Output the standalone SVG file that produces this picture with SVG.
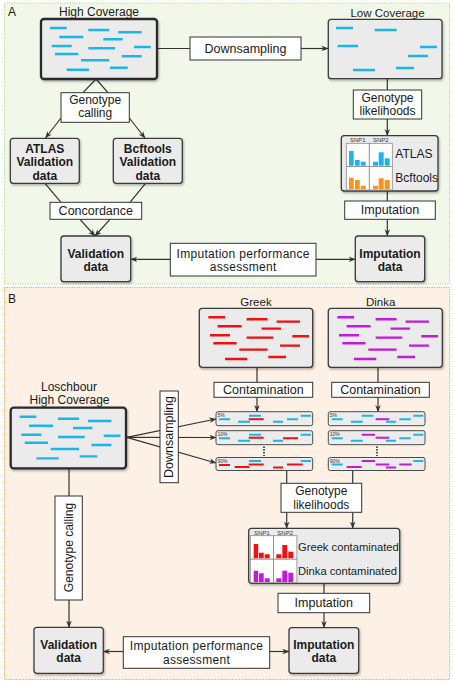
<svg xmlns="http://www.w3.org/2000/svg" xmlns:xlink="http://www.w3.org/1999/xlink" width="453" height="685" viewBox="0 0 453 685">
<style>
.pa{fill:#f2f8e9;stroke:#b3d88a;stroke-width:1;stroke-dasharray:1.2 1.2}
.pb{fill:#fdf1e6;stroke:#f2a24e;stroke-width:1;stroke-dasharray:1.2 1.2}
.w{fill:#fff;stroke:#333;stroke-width:1}
.g{fill:#ebebeb;stroke:#3a3a3a;stroke-width:1.3}
.k{fill:#ebebeb;stroke:#2a2a2a;stroke-width:2.3}
.s{fill:#ececec;stroke:#4a4a4a;stroke-width:1}
.cell{fill:#fff;stroke:#8a8a8a;stroke-width:0.8}
.t{font-family:"Liberation Sans",Arial,sans-serif;font-size:12.5px;fill:#1a1a1a;text-anchor:middle}
.t2{font-size:12px}
.ls{letter-spacing:0.3px}
.l{text-anchor:start}
.b{font-weight:bold;font-size:12px}
.sm{font-size:6px;fill:#333}
.pc{font-family:"Liberation Sans",Arial,sans-serif;font-size:5px;fill:#333}
.c{stroke:#333;stroke-width:1.2;fill:none}
.a{marker-end:url(#ah)}
.cy{stroke:#1cb5ea}
.rd{stroke:#ee1111}
.mg{stroke:#c11bd9}
.rl{stroke-width:2;fill:none}
</style>
<defs>
<marker id="ah" viewBox="0 0 10 10" refX="9.5" refY="5" markerWidth="7" markerHeight="7" orient="auto" markerUnits="userSpaceOnUse">
<path d="M0,1 L10,5 L0,9 L3,5 z" fill="#333"/>
</marker>
<filter id="sh" x="-20%" y="-20%" width="150%" height="150%">
<feDropShadow dx="1" dy="1.5" stdDeviation="1.2" flood-color="#000" flood-opacity="0.3"/>
</filter>
<path id="reads" fill="none" stroke-width="2.4" d="M9 9h16.7 M47.3 11h21 M77.3 13.3h23.4 M18.3 18h24 M62.3 20.3h19.4 M10.7 27h20 M47.3 29.3h26.7 M93 28h16.7 M14 35h23.3 M80.7 37.3h20 M40 41.3h28.3 M25.7 50.7h22.3 M69 48.7h17.7"/>
</defs>

<!-- panels -->
<rect class="pa" x="4.5" y="3" width="445" height="281"/>
<rect class="pb" x="4.5" y="287.5" width="445" height="392"/>
<text class="t l" x="8" y="15.5" style="font-size:12px">A</text>
<text class="t l" x="8" y="302.5" style="font-size:12px">B</text>

<!-- connectors -->
<g id="connectors">
<path class="c" d="M157 48.5H190"/>
<path class="c a" d="M301 48.5H328"/>
<path class="c" d="M96 79L83 92.7 M96 79L108 92.7"/>
<path class="c a" d="M61 118L45.5 138"/>
<path class="c a" d="M129.3 118L145 138"/>
<path class="c" d="M45 183.3L61 202.3 M145.5 183.3L130 202.3"/>
<path class="c a" d="M80 219.3L95 236"/>
<path class="c a" d="M110 219.3L95 236"/>
<path class="c" d="M387.3 78.7V90"/>
<path class="c a" d="M387.3 119V135.7"/>
<path class="c" d="M387.3 191V201"/>
<path class="c a" d="M387.3 219.3V236"/>
<path class="c a" d="M316 259.3H355.3"/>
<path class="c a" d="M170.3 259.3H130.7"/>

<path class="c" d="M257 367.3V382.3"/>
<path class="c a" d="M257 397.3V411.7"/>
<path class="c" d="M378 367.3V382.3"/>
<path class="c a" d="M378 397.3V411.7"/>
<path class="c a" d="M126.7 437.3L216 419"/>
<path class="c a" d="M126.7 437.3L216 437.5"/>
<path class="c a" d="M126.7 437.3L216 463"/>
<path class="c" d="M69 468.3V496"/>
<path class="c a" d="M69 600V627.3"/>
<path class="c" d="M286.7 470.3V483.3 M352.7 470.3V483.3"/>
<path class="c a" d="M286.7 512.3V528.3"/>
<path class="c a" d="M352.7 512.3V528.3"/>
<path class="c" d="M324 583.3V593.3"/>
<path class="c a" d="M324 612.7V627.7"/>
<path class="c a" d="M269.7 651.5H289"/>
<path class="c a" d="M123.3 651.5H103.3"/>
<path d="M264 446.5V456 M377 446.5V456" stroke="#222" stroke-width="1.6" stroke-dasharray="1.5 1.3" fill="none"/>
</g>

<!-- Panel A nodes -->
<g id="highCoverageA">
<text class="t" x="99" y="15.5" style="font-size:12px">High Coverage</text>
<rect class="k" x="41" y="19" width="116" height="60" rx="3" filter="url(#sh)"/>
<use xlink:href="#reads" href="#reads" x="41" y="19" stroke="#1cb5ea"/>
</g>
<g id="downsamplingA">
<rect class="w" x="190" y="37" width="111" height="23"/>
<text class="t" x="245.5" y="53">Downsampling</text>
</g>
<g id="lowCoverage">
<text class="t" x="387.5" y="16.5" style="font-size:11.5px">Low Coverage</text>
<rect class="g" x="328.3" y="19.3" width="113.7" height="59.4" rx="3" filter="url(#sh)"/>
<path class="cy" fill="none" stroke-width="2.4" d="M336 28h17 M374.7 30h22 M337.7 46h20.3 M420 47h17 M408 56h20 M353 70h22 M396 68h18"/>
</g>
<g id="genotypeCallingA">
<rect class="w" x="61" y="92.7" width="68.3" height="29.6"/>
<text class="t t2" x="95.2" y="103.5">Genotype</text>
<text class="t t2" x="95.2" y="117">calling</text>
</g>
<g id="atlasValidation">
<rect class="g" x="10.3" y="138.3" width="69" height="45" rx="3" filter="url(#sh)"/>
<text class="t b" x="44.8" y="152.5">ATLAS</text>
<text class="t b" x="44.8" y="166">Validation</text>
<text class="t b" x="44.8" y="179.5">data</text>
</g>
<g id="bcftoolsValidation">
<rect class="g" x="113.3" y="138.3" width="69" height="45" rx="3" filter="url(#sh)"/>
<text class="t b" x="147.8" y="152.5">Bcftools</text>
<text class="t b" x="147.8" y="166">Validation</text>
<text class="t b" x="147.8" y="179.5">data</text>
</g>
<g id="concordance">
<rect class="w" x="50" y="202.3" width="91.7" height="17"/>
<text class="t" x="95.8" y="215">Concordance</text>
</g>
<g id="validationA">
<rect class="g" x="61" y="236" width="69.7" height="45.7" rx="3" filter="url(#sh)"/>
<text class="t b" x="95.8" y="257.5">Validation</text>
<text class="t b" x="95.8" y="271">data</text>
</g>
<g id="perfA">
<rect class="w" x="170.3" y="243.3" width="145.7" height="32.7"/>
<text class="t t2 ls" x="243.2" y="257.5">Imputation performance</text>
<text class="t t2 ls" x="243.2" y="271">assessment</text>
</g>
<g id="genotypeLikelihoodsA">
<rect class="w" x="353.3" y="90" width="68.4" height="29"/>
<text class="t t2" x="387.5" y="101.8">Genotype</text>
<text class="t t2" x="387.5" y="115.3">likelihoods</text>
</g>
<g id="snpA">
<rect class="g" x="341.3" y="135.7" width="96.7" height="55.3" rx="3" filter="url(#sh)"/>
<rect class="cell" x="346.3" y="143.3" width="23" height="23.3"/>
<rect class="cell" x="369.3" y="143.3" width="23" height="23.3"/>
<rect class="cell" x="346.3" y="166.6" width="23" height="23.4"/>
<rect class="cell" x="369.3" y="166.6" width="23" height="23.4"/>
<text class="t sm" x="357.8" y="142.3">SNP1</text>
<text class="t sm" x="380.8" y="142.3">SNP2</text>
<g fill="#1cb5ea">
<rect x="349" y="151" width="4.7" height="14.7"/>
<rect x="355" y="160" width="4.7" height="5.7"/>
<rect x="360.7" y="161.7" width="5" height="4"/>
<rect x="373" y="161.7" width="5" height="4"/>
<rect x="378.7" y="152.3" width="5" height="13.4"/>
<rect x="384.7" y="158.3" width="5" height="7.4"/>
</g>
<g fill="#f7931e">
<rect x="349" y="177.7" width="4.7" height="11.6"/>
<rect x="355" y="180" width="4.7" height="9.3"/>
<rect x="360.7" y="185.7" width="5" height="3.6"/>
<rect x="373" y="185.7" width="5" height="3.6"/>
<rect x="378.7" y="178.3" width="5" height="11"/>
<rect x="384.7" y="180" width="5" height="9.3"/>
</g>
<text class="t l" x="395.3" y="157.7" style="font-size:12px">ATLAS</text>
<text class="t l" x="395.3" y="182.3" style="font-size:12px">Bcftools</text>
</g>
<g id="imputationA">
<rect class="w" x="344.7" y="201" width="90.6" height="18.3"/>
<text class="t" x="390" y="214">Imputation</text>
</g>
<g id="imputationDataA">
<rect class="g" x="355.3" y="236" width="69.4" height="45.7" rx="3" filter="url(#sh)"/>
<text class="t b" x="390" y="257.5">Imputation</text>
<text class="t b" x="390" y="271">data</text>
</g>

<!-- Panel B nodes -->
<g id="greek">
<text class="t" x="256" y="306" style="font-size:11.5px">Greek</text>
<rect class="g" x="199.3" y="308.3" width="113.4" height="59" rx="3" filter="url(#sh)"/>
<use xlink:href="#reads" href="#reads" x="199.3" y="308.3" stroke="#ee1111"/>
</g>
<g id="dinka">
<text class="t" x="380.7" y="306" style="font-size:11.5px">Dinka</text>
<rect class="g" x="328.3" y="308.3" width="114" height="59" rx="3" filter="url(#sh)"/>
<use xlink:href="#reads" href="#reads" x="328.3" y="308.3" stroke="#c11bd9"/>
</g>
<g id="contaminationGreek">
<rect class="w" x="214" y="382.3" width="98.7" height="15"/>
<text class="t" x="263.3" y="394">Contamination</text>
</g>
<g id="contaminationDinka">
<rect class="w" x="331.7" y="382.3" width="97.6" height="15"/>
<text class="t" x="380.5" y="394">Contamination</text>
</g>
<g id="loschbour">
<text class="t" x="69" y="390.5" style="font-size:12px">Loschbour</text>
<text class="t" x="69.5" y="404" style="font-size:12px">High Coverage</text>
<rect class="k" x="10.7" y="407.7" width="115.3" height="60.6" rx="3" filter="url(#sh)"/>
<use xlink:href="#reads" href="#reads" x="10.7" y="407.7" stroke="#1cb5ea"/>
</g>
<g id="downsamplingB">
<rect class="w" x="160" y="391" width="18.3" height="91.7"/>
<text class="t" transform="translate(173.3,437) rotate(-90)">Downsampling</text>
</g>
<g id="greekStrips">
<rect class="s" x="216" y="411.7" width="96.7" height="14" rx="2"/>
<text class="pc" x="217.5" y="417">5%</text>
<path class="rl cy" d="M219 419.2h11 M238 421.7h12 M249 415.7h12 M273 421.7h10 M287 419.2h11 M300.7 415.7h10.3"/>
<path class="rl rd" d="M248.7 419.2h15"/>
<rect class="s" x="216" y="430.7" width="96.7" height="14" rx="2"/>
<text class="pc" x="217.5" y="436">10%</text>
<path class="rl cy" d="M219 438.2h11 M238 440.7h12 M249 434.7h12 M273 440.7h10 M300.7 434.7h10.3"/>
<path class="rl rd" d="M248.7 437.7h15 M283 438.2h15"/>
<rect class="s" x="216" y="457.5" width="96.7" height="13" rx="2"/>
<text class="pc" x="217.5" y="462.6">90%</text>
<path class="rl cy" d="M249 461h12 M300.7 461h10.3"/>
<path class="rl rd" d="M219 465h11 M234.7 467h14.6 M248.7 464.5h15 M273 467.5h10 M287 464.5h15.7"/>
</g>
<g id="dinkaStrips">
<rect class="s" x="328.3" y="411.7" width="96.7" height="14" rx="2"/>
<text class="pc" x="329.8" y="417">5%</text>
<path class="rl cy" d="M331.7 419.2h11 M350.7 421.7h12 M361.7 415.7h11.6 M386 421.7h10 M399.3 419.2h11.4 M413.3 415.7h10"/>
<path class="rl mg" d="M375.7 419.2h13.6"/>
<rect class="s" x="328.3" y="430.7" width="96.7" height="14" rx="2"/>
<text class="pc" x="329.8" y="436">10%</text>
<path class="rl cy" d="M331.7 438.2h11 M350.7 440.7h12 M386 440.7h10 M399.3 438.2h11.4 M413.3 434.7h10"/>
<path class="rl mg" d="M361.7 434.7h13.3 M375.7 437.7h13.6"/>
<rect class="s" x="328.3" y="457.5" width="96.7" height="13" rx="2"/>
<text class="pc" x="329.8" y="462.6">90%</text>
<path class="rl cy" d="M331.7 464.5h11 M413.3 461h10"/>
<path class="rl mg" d="M346.7 467h15 M361.7 461h13.3 M375.7 464.5h13.6 M386 467.5h10 M399.3 464.5h12.4"/>
</g>
<g id="genotypeCallingB">
<rect class="w" x="55" y="496" width="27.3" height="104"/>
<text class="t" transform="translate(72.6,547.5) rotate(-90)" style="font-size:12px">Genotype calling</text>
</g>
<g id="genotypeLikelihoodsB">
<rect class="w" x="281" y="483.3" width="80.7" height="29"/>
<text class="t t2" x="321.3" y="495.3">Genotype</text>
<text class="t t2" x="321.3" y="508.8">likelihoods</text>
</g>
<g id="snpB">
<rect class="g" x="248.7" y="528.3" width="151" height="55" rx="3" filter="url(#sh)"/>
<rect class="cell" x="250.3" y="535.7" width="23.3" height="23.5"/>
<rect class="cell" x="273.6" y="535.7" width="23.3" height="23.5"/>
<rect class="cell" x="250.3" y="559.2" width="23.3" height="23.5"/>
<rect class="cell" x="273.6" y="559.2" width="23.3" height="23.5"/>
<text class="t sm" x="261.9" y="534.8">SNP1</text>
<text class="t sm" x="285.2" y="534.8">SNP2</text>
<g fill="#ee1111">
<rect x="253.7" y="544" width="4.5" height="14.3"/>
<rect x="259" y="552.7" width="4.7" height="5.6"/>
<rect x="264.7" y="554.3" width="5" height="4"/>
<rect x="276.3" y="554.3" width="5" height="4"/>
<rect x="282.3" y="545" width="5" height="13.3"/>
<rect x="288.3" y="551.7" width="5" height="6.6"/>
</g>
<g fill="#c11bd9">
<rect x="253.7" y="570.7" width="4.5" height="11.3"/>
<rect x="259" y="573.3" width="4.7" height="8.7"/>
<rect x="264.7" y="578.3" width="5" height="3.7"/>
<rect x="276.3" y="578.3" width="5" height="3.7"/>
<rect x="282.3" y="570.7" width="5" height="11.3"/>
<rect x="288.3" y="572.7" width="5" height="9.3"/>
</g>
<text class="t l" x="298" y="550.7" style="font-size:11.2px">Greek contaminated</text>
<text class="t l" x="298" y="575" style="font-size:11.2px">Dinka contaminated</text>
</g>
<g id="imputationB">
<rect class="w" x="278" y="593.3" width="91.7" height="19.4"/>
<text class="t" x="323.8" y="607">Imputation</text>
</g>
<g id="imputationDataB">
<rect class="g" x="289" y="627.7" width="69.7" height="45.6" rx="3" filter="url(#sh)"/>
<text class="t b" x="323.8" y="648.5">Imputation</text>
<text class="t b" x="323.8" y="662">data</text>
</g>
<g id="validationB">
<rect class="g" x="34" y="627.3" width="69.3" height="46" rx="3" filter="url(#sh)"/>
<text class="t b" x="68.7" y="648.5">Validation</text>
<text class="t b" x="68.7" y="662">data</text>
</g>
<g id="perfB">
<rect class="w" x="123.3" y="636.7" width="146.4" height="31.6"/>
<text class="t t2 ls" x="196.5" y="650">Imputation performance</text>
<text class="t t2 ls" x="196.5" y="663.5">assessment</text>
</g>
</svg>
